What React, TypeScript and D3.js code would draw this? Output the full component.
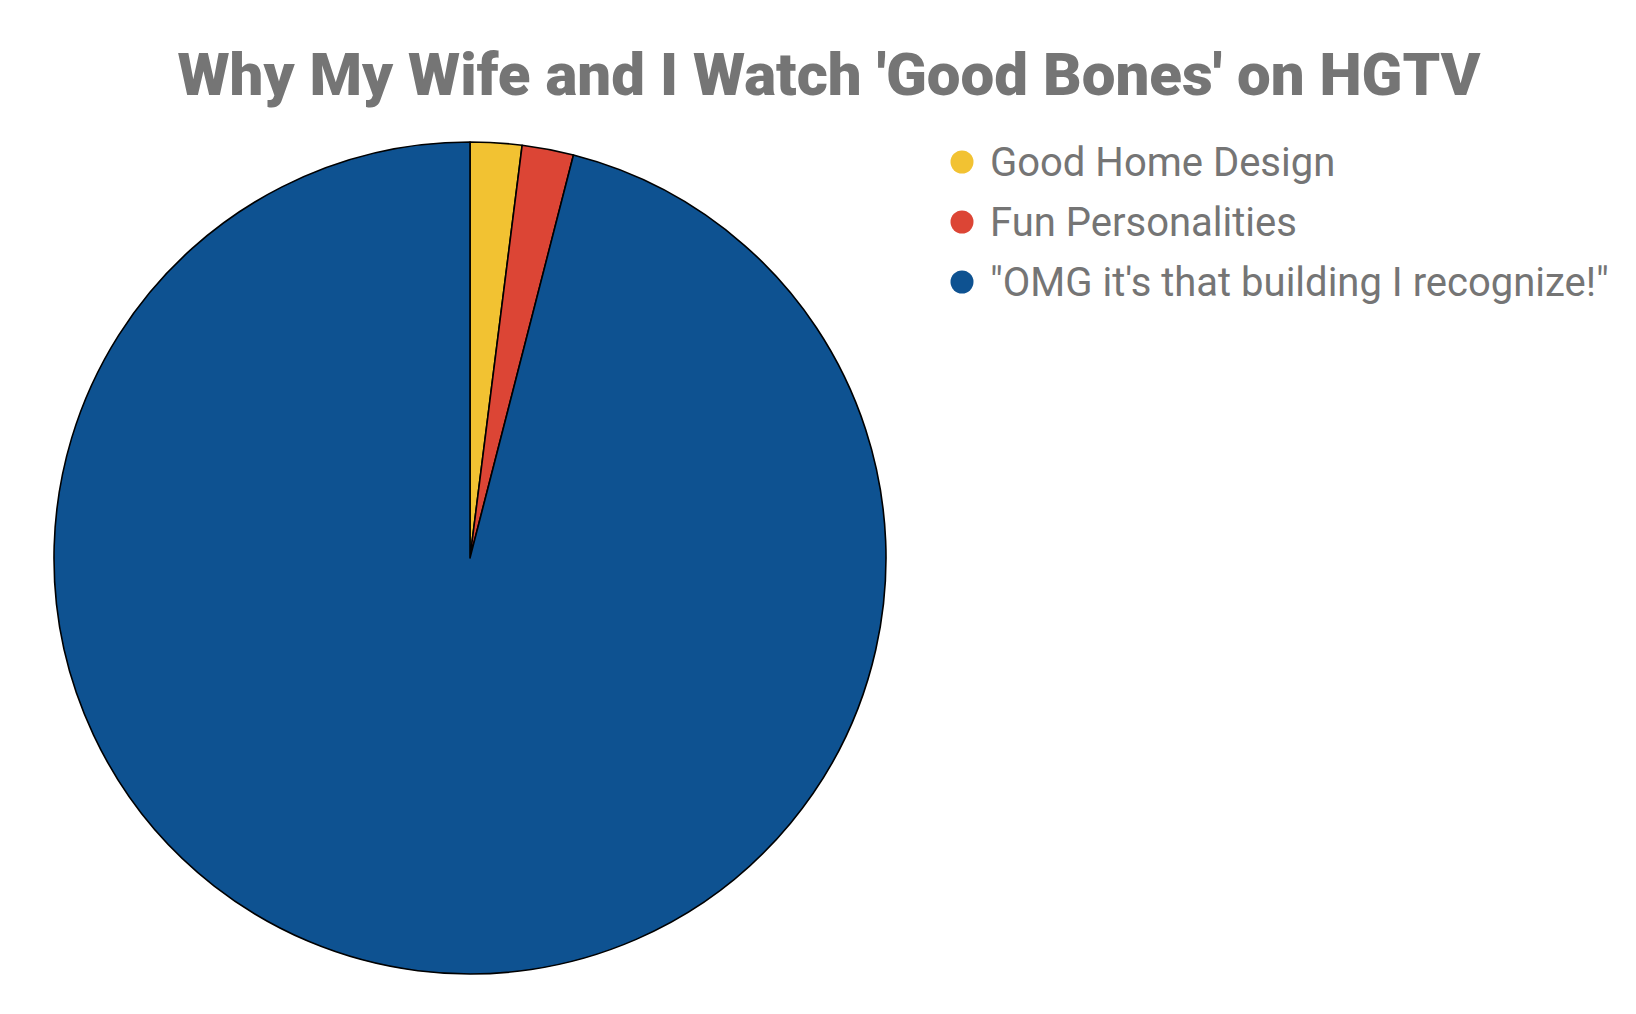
import * as d3 from 'd3'
import React, { useEffect } from 'react'

const categories = ['Good Home Design', 'Fun Personalities', '"OMG it\'s that building I recognize!"']
const values = [2, 2, 96]
const colors = ['#F2C232', '#DC4535', '#0E5291']
const title = "Why My Wife and I Watch 'Good Bones' on HGTV"

const width = 1636
const height = 1014
const cx = 470
const cy = 558
const radius = 416

export default function App() {
  useEffect(() => {
    document.body.style.margin = '0'
  }, [])

  const pie = d3.pie<number>().sort(null).value((d) => d)
  const arcs = pie(values)
  const arc = d3.arc<d3.PieArcDatum<number>>().innerRadius(0).outerRadius(radius)

  const legendY = d3.scalePoint<string>().domain(categories).range([162, 282])

  return (
    <svg width={width} height={height} style={{ display: 'block', background: '#fff' }}>
      <text
        x={829}
        y={95}
        textAnchor="middle"
        fill="#757575"
        style={{ fontFamily: 'Roboto', fontWeight: 900, fontSize: 60 }}
      >
        {title}
      </text>
      <g transform={`translate(${cx},${cy})`}>
        {arcs.map((a, i) => (
          <path key={i} d={arc(a) ?? ''} fill={colors[i]} stroke="#000" strokeWidth={1.6} strokeLinejoin="round" />
        ))}
      </g>
      <g>
        {categories.map((c, i) => (
          <g key={c} transform={`translate(962,${legendY(c)})`}>
            <circle r={11.5} fill={colors[i]} />
            <text
              x={28}
              y={14}
              fill="#757575"
              style={{ fontFamily: 'Roboto', fontSize: 40 }}
            >
              {c}
            </text>
          </g>
        ))}
      </g>
    </svg>
  )
}
